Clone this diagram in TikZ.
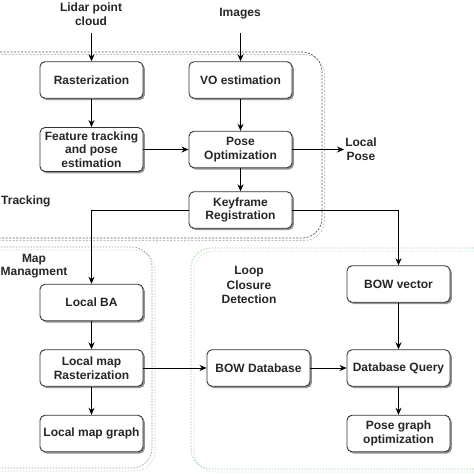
\documentclass[tikz,border=0pt]{standalone}
\usepackage{fontspec}
\setmainfont{Liberation Sans}
\usetikzlibrary{arrows.meta,shadows}
\begin{document}
\begin{tikzpicture}[x=1pt,y=-1pt,
  every node/.style={font=\fontsize{12}{13.5}\selectfont\bfseries, text=black!85},
  blk/.style={draw=black!80, line width=0.9pt, rounded corners=5pt, fill=white,
    minimum width=103pt, minimum height=36.5pt, align=center, inner sep=1pt,
    drop shadow={shadow xshift=1.8pt, shadow yshift=-1.8pt, fill=black!50, opacity=0.85}},
  lbl/.style={align=center, inner sep=0pt},
  arr/.style={draw=black, line width=0.8pt, -{Stealth[length=7pt,width=6pt]}},
  cont/.style={line width=0.7pt, rounded corners=20pt},
  trk/.style={cont, draw=black!65, dash pattern=on 2pt off 1.5pt},
  trks/.style={cont, draw=black!25, dash pattern=on 2pt off 1.5pt},
  mapc/.style={cont, draw=blue!30!black!40, dash pattern=on 1.5pt off 1.5pt},
  mapcs/.style={cont, draw=blue!20!black!18, dash pattern=on 1.5pt off 1.5pt},
  loopc/.style={cont, draw=green!50!black!40, dash pattern=on 1.5pt off 1.5pt},
  loopcs/.style={cont, draw=green!40!black!18, dash pattern=on 1.5pt off 1.5pt}
]
\useasboundingbox (0,0) rectangle (474,474);
\fill[white] (0,0) rectangle (474,474);
% containers
\draw[trks] (-40,54.5) rectangle (324.5,240.5);
\draw[trk] (-40,52) rectangle (322,238);
\draw[mapcs] (-40,250) rectangle (155,471);
\draw[mapc] (-40,247) rectangle (152,468);
\draw[loopcs] (194,251) rectangle (520,472);
\draw[loopc] (191,248) rectangle (520,469);
% labels
\node[lbl] (lidar) at (91,14) {Lidar point\\cloud};
\node[lbl] (images) at (240,14) {Images};
\node[lbl] (localpose) at (361,149) {Local\\Pose};
\node[lbl, anchor=west] (tracking) at (1,201) {Tracking};
\node[lbl] (mapm) at (34,266) {Map\\Managment};
\node[lbl, font=\fontsize{12}{14.5}\selectfont\bfseries] (loopl) at (249,285) {Loop\\Closure\\Detection};
% boxes
\node[blk] (rast) at (91.5,80) {Rasterization};
\node[blk] (vo) at (240.5,80) {VO estimation};
\node[blk, minimum height=44pt] (feat) at (91.5,149.5) {Feature tracking\\and pose\\estimation};
\node[blk] (popt) at (240.5,149.5) {Pose\\Optimization};
\node[blk] (key) at (240.5,210) {Keyframe\\Registration};
\node[blk] (lba) at (91.5,302.5) {Local BA};
\node[blk] (lmr) at (91.5,368) {Local map\\Rasterization};
\node[blk] (lmg) at (91.5,433.5) {Local map graph};
\node[blk] (bowv) at (398.5,284) {BOW vector};
\node[blk] (bowd) at (258.5,368) {BOW Database};
\node[blk] (dbq) at (398.5,368) {Database Query};
\node[blk] (pgo) at (398.5,433.5) {Pose graph\\optimization};
% arrows
\coordinate (lidarend) at (91.5,33);
\coordinate (imgend) at (240.5,33);
\coordinate (lpend) at (344,149.5);
\draw[arr] (lidarend) -- (rast);
\draw[arr] (imgend) -- (vo);
\draw[arr] (rast) -- (feat);
\draw[arr] (vo) -- (popt);
\draw[arr] (feat) -- (popt);
\draw[arr] (popt) -- (lpend);
\draw[arr] (popt) -- (key);
\draw[arr] (key.west) -| (lba.north);
\draw[arr] (key.east) -| (bowv.north);
\draw[arr] (lba) -- (lmr);
\draw[arr] (lmr) -- (lmg);
\draw[arr] (lmr) -- (bowd);
\draw[arr] (bowd) -- (dbq);
\draw[arr] (bowv) -- (dbq);
\draw[arr] (dbq) -- (pgo);
\end{tikzpicture}
\end{document}
